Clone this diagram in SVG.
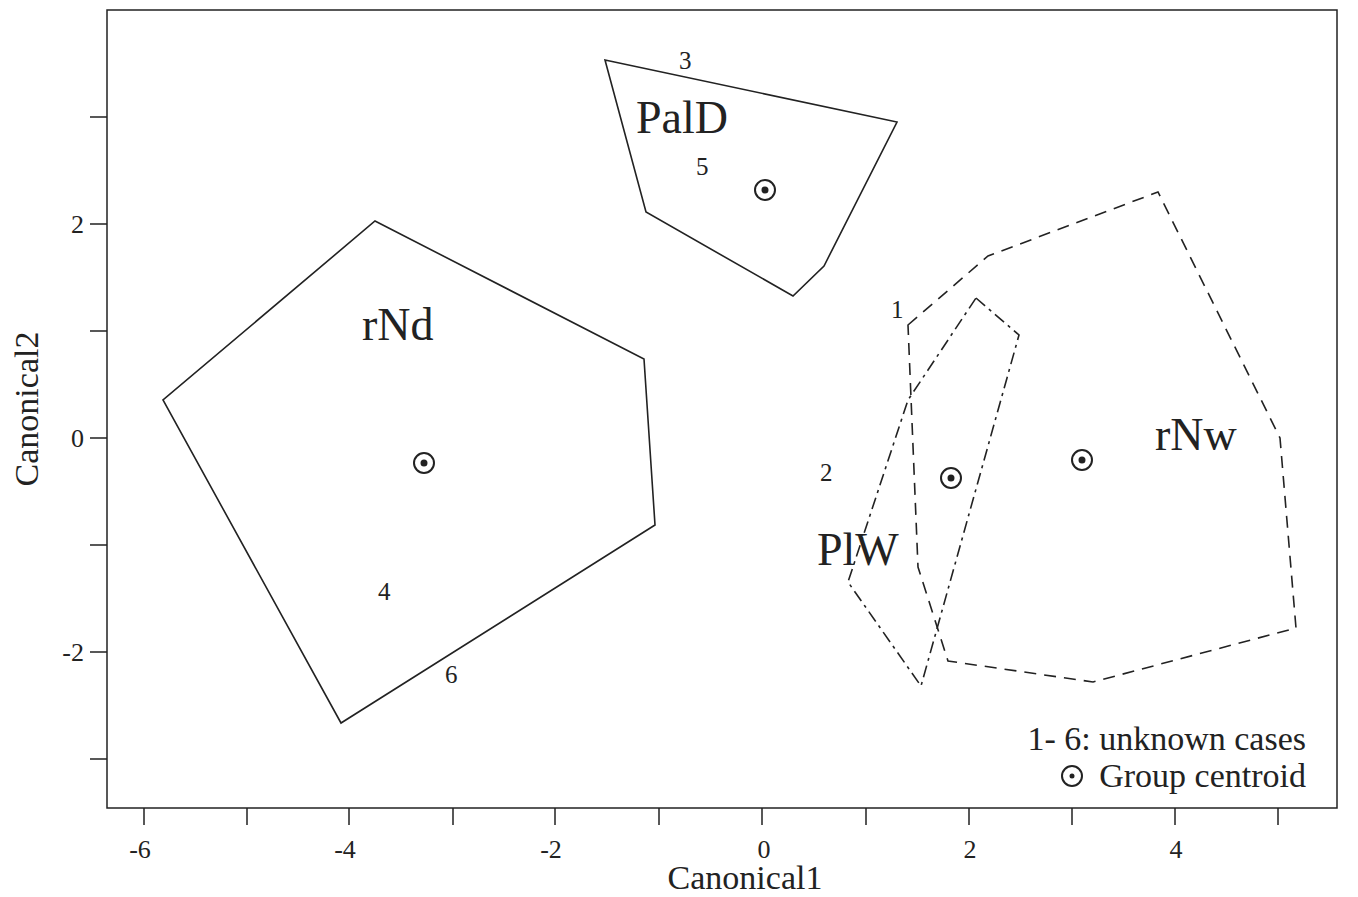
<svg xmlns="http://www.w3.org/2000/svg" width="1358" height="897" viewBox="0 0 1358 897">
<style>
text{font-family:"Liberation Serif","Times New Roman",serif;fill:#222}
.t{font-size:26px}.g{font-size:46px}.s{font-size:25px}.a{font-size:34px}
.ax{stroke:#222;stroke-width:1.5;fill:none}
.p{fill:none;stroke:#222;stroke-width:1.6}
</style>
<rect width="1358" height="897" fill="#fff"/>
<g id="axes">
<rect class="ax" x="107" y="10" width="1230" height="798"/>
<path class="ax" d="M144 808v17M247 808v17M349 808v17M453 808v17M555 808v17M659 808v17M762 808v17M866 808v17M969 808v17M1072 808v17M1175 808v17M1278 808v17M90 117h17M90 224h17M90 331h17M90 438h17M90 545h17M90 652h17M90 759h17"/>
<g class="t" text-anchor="middle">
<text x="140" y="858">-6</text><text x="345" y="858">-4</text><text x="551" y="858">-2</text><text x="764" y="858">0</text><text x="970" y="858">2</text><text x="1176" y="858">4</text>
</g>
<g class="t" text-anchor="end">
<text x="84" y="233">2</text><text x="84" y="447">0</text><text x="84" y="661">-2</text>
</g>
<text class="a" x="745" y="889" text-anchor="middle">Canonical1</text>
<text class="a" transform="translate(38 409) rotate(-90)" text-anchor="middle">Canonical2</text>
</g>
<g id="connectors">
<polygon id="rNd-hull" class="p" stroke-width="1.3" points="375,221 644,359 655,525 341,723 163,400"/>
<polygon id="PalD-hull" class="p" stroke-width="2.2" points="605,60 897,122 824,266 793,296 646,212"/>
<polygon id="rNw-hull" class="p" stroke-dasharray="12,8" points="908,325 988,256 1158,192 1280,438 1296,628 1093,682 948,661 918,567"/>
<polygon id="PlW-hull" class="p" stroke-dasharray="12,5,3,5" points="976,298 1019,335 921,686 848,582 908,400"/>
</g>
<g id="centroids" fill="none" stroke="#222" stroke-width="2">
<g id="c-PalD"><circle cx="765" cy="190" r="10"/><circle cx="765" cy="190" r="2.5" fill="#222"/></g>
<g id="c-rNd"><circle cx="424" cy="463" r="10"/><circle cx="424" cy="463" r="2.5" fill="#222"/></g>
<g id="c-PlW"><circle cx="951" cy="478" r="10"/><circle cx="951" cy="478" r="2.5" fill="#222"/></g>
<g id="c-rNw"><circle cx="1082" cy="460" r="10"/><circle cx="1082" cy="460" r="2.5" fill="#222"/></g>
</g>
<g id="labels">
<text class="g" x="636" y="133">PalD</text>
<text class="g" x="362" y="340">rNd</text>
<text class="g" x="1155" y="450">rNw</text>
<text class="g" x="817" y="565">PlW</text>
<text class="s" x="679" y="69">3</text>
<text class="s" x="696" y="175">5</text>
<text class="s" x="891" y="318">1</text>
<text class="s" x="820" y="481">2</text>
<text class="s" x="378" y="600">4</text>
<text class="s" x="445" y="683">6</text>
</g>
<g id="legend">
<text class="a" x="1306" y="750" text-anchor="end">1- 6: unknown cases</text>
<text class="a" x="1306" y="787" text-anchor="end">Group centroid</text>
<circle cx="1072" cy="776" r="10" fill="none" stroke="#222" stroke-width="2"/><circle cx="1072" cy="776" r="2.5" fill="#222"/>
</g>
</svg>
